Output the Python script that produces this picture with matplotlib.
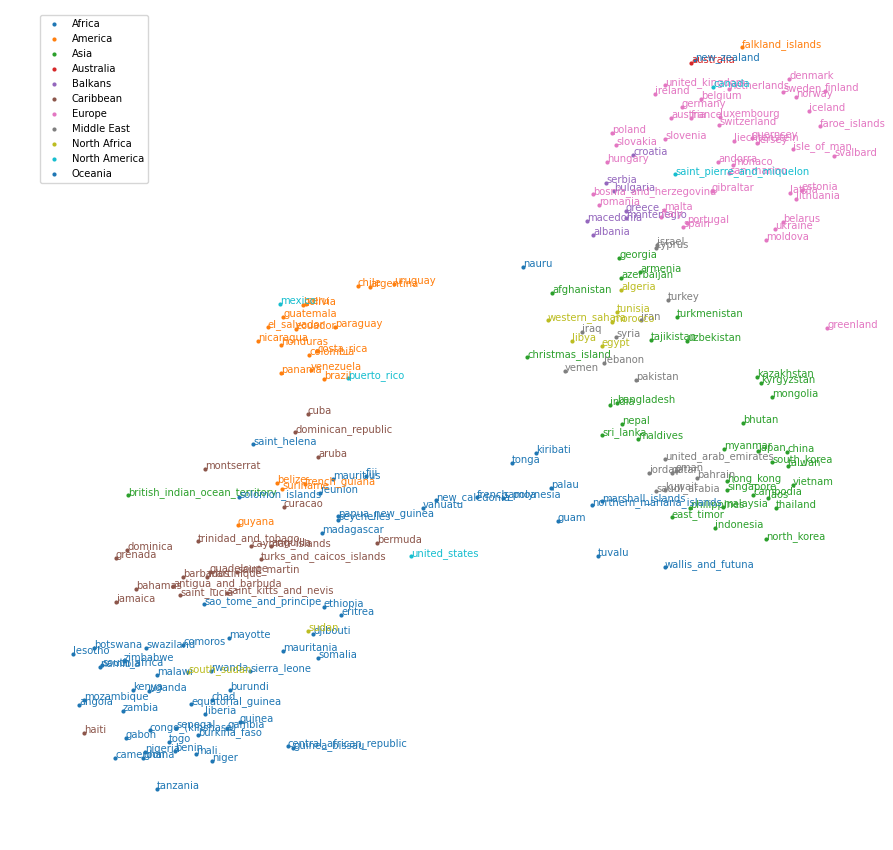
import matplotlib
matplotlib.use("Agg")
import matplotlib.pyplot as plt

# ---- data (x, y; y grows downward) ----
africa_names = ["saint_helena", "mauritius", "reunion", "seychelles", "madagascar",
                "sao_tome_and_principe", "ethiopia", "eritrea", "djibouti", "mayotte",
                "botswana", "swaziland", "comoros", "lesotho", "mauritania", "somalia",
                "zimbabwe", "south_africa", "namibia", "malawi", "rwanda", "sierra_leone",
                "kenya", "uganda", "burundi", "mozambique", "angola", "chad",
                "equatorial_guinea", "zambia", "liberia", "guinea", "gambia",
                "congo_(kinshasa)", "senegal", "burkina_faso", "gabon", "togo", "benin",
                "nigeria", "ghana", "cameroon", "mali", "niger",
                "central_african_republic", "guinea_bissau", "tanzania"]
africa_x = [253, 333, 320, 338, 322, 204, 324, 341, 313, 229, 94, 146, 183, 73, 283, 318,
            124, 102, 100, 157, 211, 250, 133, 149, 230, 84, 79, 212, 191, 123, 205, 240,
            227, 150, 176, 198, 126, 169, 175, 145, 143, 115, 196, 212, 288, 293, 157]
africa_y = [444, 479, 493, 520, 533, 604, 607, 615, 634, 638, 648, 648, 645, 654, 651, 658,
            661, 665, 667, 675, 671, 671, 690, 691, 690, 700, 705, 700, 704, 711, 714, 722,
            728, 730, 728, 735, 738, 742, 751, 752, 758, 758, 754, 761, 746, 748, 789]

america_names = ["falkland_islands", "chile", "argentina", "uruguay", "bolivia", "peru",
                 "guatemala", "el_salvador", "ecuador", "paraguay", "nicaragua", "honduras",
                 "costa_rica", "colombia", "panama", "venezuela", "brazil", "belize",
                 "french_guiana", "suriname", "guyana"]
america_x = [742, 358, 370, 394, 303, 306, 283, 268, 296, 335, 258, 281, 317, 309, 281, 311,
             324, 277, 305, 282, 238]
america_y = [47, 286, 287, 284, 305, 304, 317, 327, 329, 327, 341, 345, 351, 355, 373, 370,
             379, 483, 484, 489, 525]

asia_names = ["georgia", "armenia", "azerbaijan", "afghanistan", "turkmenistan", "tajikistan",
              "uzbekistan", "christmas_island", "kazakhstan", "kyrgyzstan", "mongolia",
              "india", "bangladesh", "bhutan", "nepal", "sri_lanka", "maldives", "myanmar",
              "japan", "china", "south_korea", "taiwan", "hong_kong", "vietnam", "singapore",
              "cambodia", "laos", "malaysia", "philippines", "thailand", "east_timor",
              "indonesia", "north_korea", "british_indian_ocean_territory"]
asia_x = [619, 640, 621, 552, 677, 651, 687, 527, 757, 761, 772, 610, 617, 743, 622, 602, 638,
          724, 758, 787, 772, 788, 727, 793, 727, 753, 768, 723, 690, 776, 672, 715, 766, 128]
asia_y = [258, 272, 278, 293, 317, 340, 341, 357, 377, 383, 397, 405, 403, 423, 424, 435, 439,
          449, 451, 452, 462, 466, 481, 485, 490, 495, 498, 507, 508, 508, 517, 528, 539, 495]

australia_names = ["australia"]
australia_x = [691]
australia_y = [63]

balkans_names = ["croatia", "serbia", "bulgaria", "greece", "montenegro", "macedonia", "albania"]
balkans_x = [633, 606, 614, 626, 626, 587, 593]
balkans_y = [155, 183, 191, 211, 218, 221, 235]

caribbean_names = ["cuba", "dominican_republic", "aruba", "montserrat", "curacao",
                   "trinidad_and_tobago", "cayman_islands", "anguilla", "bermuda", "dominica",
                   "grenada", "turks_and_caicos_islands", "guadeloupe", "barbados",
                   "martinique", "saint_martin", "antigua_and_barbuda", "bahamas",
                   "saint_lucia", "saint_kitts_and_nevis", "jamaica", "haiti"]
caribbean_x = [308, 295, 318, 205, 284, 198, 251, 271, 377, 127, 116, 261, 210, 183, 207, 237,
               173, 136, 180, 227, 116, 84]
caribbean_y = [414, 432, 457, 469, 507, 541, 546, 546, 543, 550, 558, 559, 572, 577, 577, 572,
               586, 589, 595, 593, 602, 733]

europe_names = ["united_kingdom", "netherlands", "ireland", "belgium", "denmark", "sweden",
                "finland", "norway", "germany", "iceland", "austria", "france", "luxembourg",
                "switzerland", "faroe_islands", "poland", "slovenia", "slovakia",
                "liechtenstein", "guernsey", "jersey", "isle_of_man", "svalbard", "hungary",
                "andorra", "monaco", "san_marino", "bosnia_and_herzegovina", "gibraltar",
                "latvia", "estonia", "lithuania", "romania", "malta", "italy", "portugal",
                "spain", "belarus", "ukraine", "moldova", "greenland"]
europe_x = [665, 729, 655, 701, 789, 783, 825, 796, 682, 809, 671, 691, 720, 719, 820, 612, 665,
            616, 734, 752, 757, 793, 834, 607, 718, 733, 729, 593, 712, 790, 802, 796, 599, 664,
            661, 687, 683, 783, 775, 766, 827]
europe_y = [85, 89, 94, 99, 79, 92, 91, 97, 107, 111, 118, 118, 117, 125, 126, 133, 139, 145,
            141, 138, 143, 149, 156, 162, 162, 165, 173, 194, 191, 193, 190, 199, 205, 210, 217,
            223, 227, 222, 229, 240, 328]

mideast_names = ["israel", "cyprus", "turkey", "iran", "iraq", "syria", "lebanon", "yemen",
                 "pakistan", "united_arab_emirates", "jordan", "qatar", "oman", "bahrain",
                 "kuwait", "saudi_arabia"]
mideast_x = [657, 656, 668, 641, 582, 616, 604, 565, 636, 665, 649, 672, 676, 697, 665, 656]
mideast_y = [245, 248, 300, 320, 332, 337, 363, 371, 380, 459, 473, 473, 471, 478, 490, 491]

nafrica_names = ["algeria", "tunisia", "morocco", "western_sahara", "libya", "egypt", "sudan",
                 "south_sudan"]
nafrica_x = [621, 617, 612, 548, 572, 602, 308, 188]
nafrica_y = [290, 312, 322, 320, 341, 346, 631, 672]

namerica_names = ["mexico", "canada", "saint_pierre_and_miquelon", "puerto_rico", "united_states"]
namerica_x = [280, 713, 675, 348, 411]
namerica_y = [304, 87, 174, 378, 556]

oceania_names = ["new_zealand", "nauru", "fiji", "solomon_islands", "papua_new_guinea",
                 "vanuatu", "kiribati", "tonga", "palau", "new_caledonia", "french_polynesia",
                 "samoa", "guam", "marshall_islands", "northern_mariana_islands", "tuvalu",
                 "wallis_and_futuna"]
oceania_x = [695, 523, 366, 239, 338, 423, 536, 512, 551, 436, 477, 503, 558, 602, 592, 598, 665]
oceania_y = [60, 267, 476, 497, 516, 508, 453, 463, 488, 500, 497, 498, 521, 501, 505, 556, 567]

groups = ["Africa", "America", "Asia", "Australia", "Balkans", "Caribbean", "Europe",
          "Middle East", "North Africa", "North America", "Oceania"]
group_data = [
    (africa_names, africa_x, africa_y),
    (america_names, america_x, america_y),
    (asia_names, asia_x, asia_y),
    (australia_names, australia_x, australia_y),
    (balkans_names, balkans_x, balkans_y),
    (caribbean_names, caribbean_x, caribbean_y),
    (europe_names, europe_x, europe_y),
    (mideast_names, mideast_x, mideast_y),
    (nafrica_names, nafrica_x, nafrica_y),
    (namerica_names, namerica_x, namerica_y),
    (oceania_names, oceania_x, oceania_y),
]

colors = plt.rcParams["axes.prop_cycle"].by_key()["color"]

fig = plt.figure(figsize=(8.93, 8.5), dpi=100)
ax = fig.add_axes([0, 0, 1, 1])
ax.set_xlim(0, 893)
ax.set_ylim(850, 0)
ax.axis("off")

fs = 7.2
for i, (grp, (names, xs, ys)) in enumerate(zip(groups, group_data)):
    c = colors[i % len(colors)]
    ax.scatter(xs, ys, s=9, color=c, label=grp, linewidths=0)
    for n, x, y in zip(names, xs, ys):
        ax.text(x, y, n, color=c, fontsize=fs, ha="left", va="baseline")

fig.legend(loc="upper left", bbox_to_anchor=(40 / 893, 1 - 15 / 850),
           bbox_transform=fig.transFigure, borderaxespad=0, fontsize=fs,
           scatterpoints=1)

fig.savefig("out.png", dpi=100)
